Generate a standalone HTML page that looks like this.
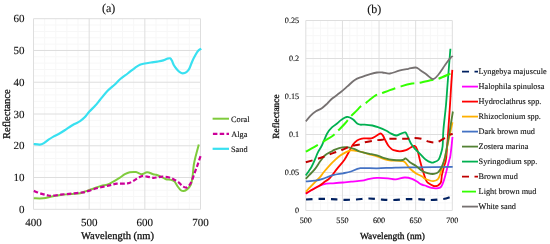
<!DOCTYPE html>
<html><head><meta charset="utf-8"><style>
html,body{margin:0;padding:0;background:#fff;width:550px;height:244px;overflow:hidden}
svg{display:block;will-change:transform;filter:blur(0.3px)}
text{font-family:"Liberation Serif",serif;text-rendering:geometricPrecision;fill:#111111;stroke:#111;stroke-width:0.12px}
text.b{stroke-width:0.3px}
</style></head><body>
<svg width="550" height="244" viewBox="0 0 550 244">
<rect width="550" height="244" fill="#fff"/>
<line x1="33.5" y1="202.95" x2="200.5" y2="202.95" stroke="#f7f7f7" stroke-width="1"/>
<line x1="33.5" y1="196.59" x2="200.5" y2="196.59" stroke="#f7f7f7" stroke-width="1"/>
<line x1="33.5" y1="190.24" x2="200.5" y2="190.24" stroke="#f7f7f7" stroke-width="1"/>
<line x1="33.5" y1="183.89" x2="200.5" y2="183.89" stroke="#f7f7f7" stroke-width="1"/>
<line x1="33.5" y1="171.18" x2="200.5" y2="171.18" stroke="#f7f7f7" stroke-width="1"/>
<line x1="33.5" y1="164.83" x2="200.5" y2="164.83" stroke="#f7f7f7" stroke-width="1"/>
<line x1="33.5" y1="158.47" x2="200.5" y2="158.47" stroke="#f7f7f7" stroke-width="1"/>
<line x1="33.5" y1="152.12" x2="200.5" y2="152.12" stroke="#f7f7f7" stroke-width="1"/>
<line x1="33.5" y1="139.41" x2="200.5" y2="139.41" stroke="#f7f7f7" stroke-width="1"/>
<line x1="33.5" y1="133.06" x2="200.5" y2="133.06" stroke="#f7f7f7" stroke-width="1"/>
<line x1="33.5" y1="126.71" x2="200.5" y2="126.71" stroke="#f7f7f7" stroke-width="1"/>
<line x1="33.5" y1="120.35" x2="200.5" y2="120.35" stroke="#f7f7f7" stroke-width="1"/>
<line x1="33.5" y1="107.65" x2="200.5" y2="107.65" stroke="#f7f7f7" stroke-width="1"/>
<line x1="33.5" y1="101.29" x2="200.5" y2="101.29" stroke="#f7f7f7" stroke-width="1"/>
<line x1="33.5" y1="94.94" x2="200.5" y2="94.94" stroke="#f7f7f7" stroke-width="1"/>
<line x1="33.5" y1="88.59" x2="200.5" y2="88.59" stroke="#f7f7f7" stroke-width="1"/>
<line x1="33.5" y1="75.88" x2="200.5" y2="75.88" stroke="#f7f7f7" stroke-width="1"/>
<line x1="33.5" y1="69.53" x2="200.5" y2="69.53" stroke="#f7f7f7" stroke-width="1"/>
<line x1="33.5" y1="63.17" x2="200.5" y2="63.17" stroke="#f7f7f7" stroke-width="1"/>
<line x1="33.5" y1="56.82" x2="200.5" y2="56.82" stroke="#f7f7f7" stroke-width="1"/>
<line x1="33.5" y1="44.11" x2="200.5" y2="44.11" stroke="#f7f7f7" stroke-width="1"/>
<line x1="33.5" y1="37.76" x2="200.5" y2="37.76" stroke="#f7f7f7" stroke-width="1"/>
<line x1="33.5" y1="31.41" x2="200.5" y2="31.41" stroke="#f7f7f7" stroke-width="1"/>
<line x1="33.5" y1="25.05" x2="200.5" y2="25.05" stroke="#f7f7f7" stroke-width="1"/>
<line x1="44.63" y1="18.7" x2="44.63" y2="209.3" stroke="#f7f7f7" stroke-width="1"/>
<line x1="55.77" y1="18.7" x2="55.77" y2="209.3" stroke="#f7f7f7" stroke-width="1"/>
<line x1="66.9" y1="18.7" x2="66.9" y2="209.3" stroke="#f7f7f7" stroke-width="1"/>
<line x1="78.03" y1="18.7" x2="78.03" y2="209.3" stroke="#f7f7f7" stroke-width="1"/>
<line x1="100.3" y1="18.7" x2="100.3" y2="209.3" stroke="#f7f7f7" stroke-width="1"/>
<line x1="111.43" y1="18.7" x2="111.43" y2="209.3" stroke="#f7f7f7" stroke-width="1"/>
<line x1="122.57" y1="18.7" x2="122.57" y2="209.3" stroke="#f7f7f7" stroke-width="1"/>
<line x1="133.7" y1="18.7" x2="133.7" y2="209.3" stroke="#f7f7f7" stroke-width="1"/>
<line x1="155.97" y1="18.7" x2="155.97" y2="209.3" stroke="#f7f7f7" stroke-width="1"/>
<line x1="167.1" y1="18.7" x2="167.1" y2="209.3" stroke="#f7f7f7" stroke-width="1"/>
<line x1="178.23" y1="18.7" x2="178.23" y2="209.3" stroke="#f7f7f7" stroke-width="1"/>
<line x1="189.37" y1="18.7" x2="189.37" y2="209.3" stroke="#f7f7f7" stroke-width="1"/>
<line x1="33.5" y1="177.53" x2="200.5" y2="177.53" stroke="#dedede" stroke-width="1"/>
<line x1="33.5" y1="145.77" x2="200.5" y2="145.77" stroke="#dedede" stroke-width="1"/>
<line x1="33.5" y1="114" x2="200.5" y2="114" stroke="#dedede" stroke-width="1"/>
<line x1="33.5" y1="82.23" x2="200.5" y2="82.23" stroke="#dedede" stroke-width="1"/>
<line x1="33.5" y1="50.47" x2="200.5" y2="50.47" stroke="#dedede" stroke-width="1"/>
<line x1="33.5" y1="18.7" x2="200.5" y2="18.7" stroke="#dedede" stroke-width="1"/>
<line x1="89.17" y1="18.7" x2="89.17" y2="209.3" stroke="#dedede" stroke-width="1"/>
<line x1="144.83" y1="18.7" x2="144.83" y2="209.3" stroke="#dedede" stroke-width="1"/>
<line x1="200.5" y1="18.7" x2="200.5" y2="209.3" stroke="#dedede" stroke-width="1"/>
<line x1="33.5" y1="18.7" x2="33.5" y2="209.3" stroke="#dedede" stroke-width="1"/>
<line x1="33.5" y1="209.3" x2="200.5" y2="209.3" stroke="#dedede" stroke-width="1"/>
<line x1="305.8" y1="202.9" x2="452.3" y2="202.9" stroke="#f7f7f7" stroke-width="1"/>
<line x1="305.8" y1="195.3" x2="452.3" y2="195.3" stroke="#f7f7f7" stroke-width="1"/>
<line x1="305.8" y1="187.7" x2="452.3" y2="187.7" stroke="#f7f7f7" stroke-width="1"/>
<line x1="305.8" y1="180.1" x2="452.3" y2="180.1" stroke="#f7f7f7" stroke-width="1"/>
<line x1="305.8" y1="164.9" x2="452.3" y2="164.9" stroke="#f7f7f7" stroke-width="1"/>
<line x1="305.8" y1="157.3" x2="452.3" y2="157.3" stroke="#f7f7f7" stroke-width="1"/>
<line x1="305.8" y1="149.7" x2="452.3" y2="149.7" stroke="#f7f7f7" stroke-width="1"/>
<line x1="305.8" y1="142.1" x2="452.3" y2="142.1" stroke="#f7f7f7" stroke-width="1"/>
<line x1="305.8" y1="126.9" x2="452.3" y2="126.9" stroke="#f7f7f7" stroke-width="1"/>
<line x1="305.8" y1="119.3" x2="452.3" y2="119.3" stroke="#f7f7f7" stroke-width="1"/>
<line x1="305.8" y1="111.7" x2="452.3" y2="111.7" stroke="#f7f7f7" stroke-width="1"/>
<line x1="305.8" y1="104.1" x2="452.3" y2="104.1" stroke="#f7f7f7" stroke-width="1"/>
<line x1="305.8" y1="88.9" x2="452.3" y2="88.9" stroke="#f7f7f7" stroke-width="1"/>
<line x1="305.8" y1="81.3" x2="452.3" y2="81.3" stroke="#f7f7f7" stroke-width="1"/>
<line x1="305.8" y1="73.7" x2="452.3" y2="73.7" stroke="#f7f7f7" stroke-width="1"/>
<line x1="305.8" y1="66.1" x2="452.3" y2="66.1" stroke="#f7f7f7" stroke-width="1"/>
<line x1="305.8" y1="50.9" x2="452.3" y2="50.9" stroke="#f7f7f7" stroke-width="1"/>
<line x1="305.8" y1="43.3" x2="452.3" y2="43.3" stroke="#f7f7f7" stroke-width="1"/>
<line x1="305.8" y1="35.7" x2="452.3" y2="35.7" stroke="#f7f7f7" stroke-width="1"/>
<line x1="305.8" y1="28.1" x2="452.3" y2="28.1" stroke="#f7f7f7" stroke-width="1"/>
<line x1="313.12" y1="20.5" x2="313.12" y2="210.5" stroke="#f7f7f7" stroke-width="1"/>
<line x1="320.45" y1="20.5" x2="320.45" y2="210.5" stroke="#f7f7f7" stroke-width="1"/>
<line x1="327.78" y1="20.5" x2="327.78" y2="210.5" stroke="#f7f7f7" stroke-width="1"/>
<line x1="335.1" y1="20.5" x2="335.1" y2="210.5" stroke="#f7f7f7" stroke-width="1"/>
<line x1="349.75" y1="20.5" x2="349.75" y2="210.5" stroke="#f7f7f7" stroke-width="1"/>
<line x1="357.07" y1="20.5" x2="357.07" y2="210.5" stroke="#f7f7f7" stroke-width="1"/>
<line x1="364.4" y1="20.5" x2="364.4" y2="210.5" stroke="#f7f7f7" stroke-width="1"/>
<line x1="371.73" y1="20.5" x2="371.73" y2="210.5" stroke="#f7f7f7" stroke-width="1"/>
<line x1="386.38" y1="20.5" x2="386.38" y2="210.5" stroke="#f7f7f7" stroke-width="1"/>
<line x1="393.7" y1="20.5" x2="393.7" y2="210.5" stroke="#f7f7f7" stroke-width="1"/>
<line x1="401.02" y1="20.5" x2="401.02" y2="210.5" stroke="#f7f7f7" stroke-width="1"/>
<line x1="408.35" y1="20.5" x2="408.35" y2="210.5" stroke="#f7f7f7" stroke-width="1"/>
<line x1="423" y1="20.5" x2="423" y2="210.5" stroke="#f7f7f7" stroke-width="1"/>
<line x1="430.33" y1="20.5" x2="430.33" y2="210.5" stroke="#f7f7f7" stroke-width="1"/>
<line x1="437.65" y1="20.5" x2="437.65" y2="210.5" stroke="#f7f7f7" stroke-width="1"/>
<line x1="444.98" y1="20.5" x2="444.98" y2="210.5" stroke="#f7f7f7" stroke-width="1"/>
<line x1="305.8" y1="172.5" x2="452.3" y2="172.5" stroke="#dedede" stroke-width="1"/>
<line x1="305.8" y1="134.5" x2="452.3" y2="134.5" stroke="#dedede" stroke-width="1"/>
<line x1="305.8" y1="96.5" x2="452.3" y2="96.5" stroke="#dedede" stroke-width="1"/>
<line x1="305.8" y1="58.5" x2="452.3" y2="58.5" stroke="#dedede" stroke-width="1"/>
<line x1="305.8" y1="20.5" x2="452.3" y2="20.5" stroke="#dedede" stroke-width="1"/>
<line x1="342.43" y1="20.5" x2="342.43" y2="210.5" stroke="#dedede" stroke-width="1"/>
<line x1="379.05" y1="20.5" x2="379.05" y2="210.5" stroke="#dedede" stroke-width="1"/>
<line x1="415.68" y1="20.5" x2="415.68" y2="210.5" stroke="#dedede" stroke-width="1"/>
<line x1="452.3" y1="20.5" x2="452.3" y2="210.5" stroke="#dedede" stroke-width="1"/>
<line x1="305.8" y1="20.5" x2="305.8" y2="210.5" stroke="#dedede" stroke-width="1"/>
<line x1="305.8" y1="210.5" x2="452.3" y2="210.5" stroke="#dedede" stroke-width="1"/>
<path d="M33.8,198.3 C35.35,198.3 40.1,198.58 43.1,198.3 C46.1,198.02 48.9,197.15 51.8,196.6 C54.7,196.05 57.23,195.43 60.5,195 C63.77,194.57 67.93,194.35 71.4,194 C74.87,193.65 79.03,193.32 81.3,192.9 C83.57,192.48 83.15,192.15 85,191.5 C86.85,190.85 89.73,189.93 92.4,189 C95.07,188.07 98.53,186.62 101,185.9 C103.47,185.18 105.15,185.42 107.2,184.7 C109.25,183.98 111.25,182.73 113.3,181.6 C115.35,180.47 117.57,179.13 119.5,177.9 C121.43,176.67 123.18,175.13 124.9,174.2 C126.62,173.27 127.95,172.65 129.8,172.3 C131.65,171.95 134.05,171.78 136,172.1 C137.95,172.42 139.65,174.17 141.5,174.2 C143.35,174.23 145.15,172.3 147.1,172.3 C149.05,172.3 151.68,173.78 153.2,174.2 C154.72,174.62 154.68,174.28 156.2,174.8 C157.72,175.32 160.67,176.57 162.3,177.3 C163.93,178.03 164.57,178.78 166,179.2 C167.43,179.62 169.47,179.4 170.9,179.8 C172.33,180.2 173.47,180.48 174.6,181.6 C175.73,182.72 176.67,185.07 177.7,186.5 C178.73,187.93 179.78,189.43 180.8,190.2 C181.82,190.97 182.78,191.2 183.8,191.1 C184.82,191 185.72,190.7 186.9,189.6 C188.08,188.5 189.95,186.77 190.9,184.5 C191.85,182.23 192.12,179.25 192.6,176 C193.08,172.75 193.3,168.25 193.8,165 C194.3,161.75 194.77,159.92 195.6,156.5 C196.43,153.08 198.27,146.5 198.8,144.5" fill="none" stroke="#7fcb3c" stroke-width="2" stroke-linejoin="round"/>
<path d="M33.8,190.9 C34.98,191.35 38.63,192.87 40.9,193.6 C43.17,194.33 45.58,194.93 47.4,195.3 C49.22,195.67 49.62,195.9 51.8,195.8 C53.98,195.7 57.23,195.07 60.5,194.7 C63.77,194.33 67.93,193.97 71.4,193.6 C74.87,193.23 79.03,192.75 81.3,192.5 C83.57,192.25 83.15,192.58 85,192.1 C86.85,191.62 89.73,190.42 92.4,189.6 C95.07,188.78 98.13,187.92 101,187.2 C103.87,186.48 106.93,185.88 109.6,185.3 C112.27,184.72 114.03,184.02 117,183.7 C119.97,183.38 124.85,183.77 127.4,183.4 C129.95,183.03 130.67,182.32 132.3,181.5 C133.93,180.68 135.55,179.42 137.2,178.5 C138.85,177.58 140.55,176.32 142.2,176 C143.85,175.68 145.27,176.3 147.1,176.6 C148.93,176.9 151.48,177.68 153.2,177.8 C154.92,177.92 155.88,177.48 157.4,177.3 C158.92,177.12 160.45,176.7 162.3,176.7 C164.15,176.7 166.65,176.88 168.5,177.3 C170.35,177.72 171.77,178.38 173.4,179.2 C175.03,180.02 176.67,180.98 178.3,182.2 C179.93,183.42 181.77,185.63 183.2,186.5 C184.63,187.37 185.62,188.02 186.9,187.4 C188.18,186.78 189.67,185.07 190.9,182.8 C192.13,180.53 193.18,176.8 194.3,173.8 C195.42,170.8 196.55,167.8 197.6,164.8 C198.65,161.8 200.1,157.3 200.6,155.8" fill="none" stroke="#cc0099" stroke-width="2.2" stroke-linejoin="round" stroke-dasharray="4.5,2.3"/>
<path d="M33.7,144 C34.72,144.1 38.17,144.7 39.8,144.6 C41.43,144.5 42.05,144.22 43.5,143.4 C44.95,142.58 46.85,140.83 48.5,139.7 C50.15,138.57 51.57,137.63 53.4,136.6 C55.23,135.57 57.45,134.67 59.5,133.5 C61.55,132.33 63.83,130.82 65.7,129.6 C67.57,128.38 69.15,127.17 70.7,126.2 C72.25,125.23 73.43,124.63 75,123.8 C76.57,122.97 78.53,122.23 80.1,121.2 C81.67,120.17 82.85,119.22 84.4,117.6 C85.95,115.98 87.62,113.47 89.4,111.5 C91.18,109.53 93.32,107.75 95.1,105.8 C96.88,103.85 98.05,102.27 100.1,99.8 C102.15,97.33 104.95,93.55 107.4,91 C109.85,88.45 112.65,86.5 114.8,84.5 C116.95,82.5 118.15,80.83 120.3,79 C122.45,77.17 125.25,75.37 127.7,73.5 C130.15,71.63 132.97,69.27 135,67.8 C137.03,66.33 138.27,65.42 139.9,64.7 C141.53,63.98 142.95,63.87 144.8,63.5 C146.65,63.13 148.93,62.82 151,62.5 C153.07,62.18 155.15,61.95 157.2,61.6 C159.25,61.25 161.67,60.87 163.3,60.4 C164.93,59.93 165.87,59.15 167,58.8 C168.13,58.45 169.28,58 170.1,58.3 C170.92,58.6 171.27,59.43 171.9,60.6 C172.53,61.77 173.08,63.85 173.9,65.3 C174.72,66.75 175.82,68.15 176.8,69.3 C177.78,70.45 178.82,71.53 179.8,72.2 C180.78,72.87 181.6,73.3 182.7,73.3 C183.8,73.3 185.28,73 186.4,72.2 C187.52,71.4 188.42,70.33 189.4,68.5 C190.38,66.67 191.32,63.4 192.3,61.2 C193.28,59 194.32,57.03 195.3,55.3 C196.28,53.57 197.22,51.92 198.2,50.8 C199.18,49.68 200.7,48.97 201.2,48.6" fill="none" stroke="#38e0f0" stroke-width="2.2" stroke-linejoin="round"/>
<line x1="212.6" y1="118.7" x2="229" y2="118.7" stroke="#7fcb3c" stroke-width="2"/>
<line x1="212.9" y1="133.8" x2="229" y2="133.8" stroke="#cc0099" stroke-width="2.2" stroke-dasharray="4.5,2.3"/>
<line x1="212.6" y1="148.8" x2="229" y2="148.8" stroke="#38e0f0" stroke-width="2.2"/>
<text x="231" y="122.3" font-size="8.3" text-anchor="start">Coral</text>
<text x="231.2" y="137.4" font-size="8.3" text-anchor="start">Alga</text>
<text x="231" y="151.8" font-size="8.3" text-anchor="start">Sand</text>
<path d="M306,199.5 C308.17,199.38 314.83,198.87 319,198.8 C323.17,198.73 326.9,198.93 331,199.1 C335.1,199.27 339.4,199.73 343.6,199.8 C347.8,199.87 352,199.72 356.2,199.5 C360.4,199.28 364.7,198.5 368.8,198.5 C372.9,198.5 376.7,199.25 380.8,199.5 C384.9,199.75 389.2,200.05 393.4,200 C397.6,199.95 401.9,199.35 406,199.2 C410.1,199.05 413.92,198.97 418,199.1 C422.08,199.23 426.83,199.97 430.5,200 C434.17,200.03 437.42,199.55 440,199.3 C442.58,199.05 444.08,198.97 446,198.5 C447.92,198.03 450.58,196.83 451.5,196.5" fill="none" stroke="#002060" stroke-width="2.2" stroke-linejoin="round" stroke-dasharray="6.5,6"/>
<path d="M305.8,193.8 C306.97,193.03 310.4,190.58 312.8,189.2 C315.2,187.82 317.93,186.42 320.2,185.5 C322.47,184.58 324.27,184.07 326.4,183.7 C328.53,183.33 330.23,183.5 333,183.3 C335.77,183.1 340,182.78 343,182.5 C346,182.22 347.83,181.9 351,181.6 C354.17,181.3 358.92,181.17 362,180.7 C365.08,180.23 367,179.27 369.5,178.8 C372,178.33 373.92,177.98 377,177.9 C380.08,177.82 384.92,178.05 388,178.3 C391.08,178.55 392.72,179.53 395.5,179.4 C398.28,179.27 401.95,177.6 404.7,177.5 C407.45,177.4 409.95,178.12 412,178.8 C414.05,179.48 415.43,180.67 417,181.6 C418.57,182.53 420.07,183.75 421.4,184.4 C422.73,185.05 423.3,184.92 425,185.5 C426.7,186.08 429.43,187.47 431.6,187.9 C433.77,188.33 436.4,188.32 438,188.1 C439.6,187.88 440.2,187.93 441.2,186.6 C442.2,185.27 443.05,182.98 444,180.1 C444.95,177.22 446.05,172.53 446.9,169.3 C447.75,166.07 448.5,163.08 449.1,160.7 C449.7,158.32 449.93,158.95 450.5,155 C451.07,151.05 452.17,140 452.5,137" fill="none" stroke="#ff00ff" stroke-width="1.8" stroke-linejoin="round"/>
<path d="M305.8,193.5 C306.77,192.92 309.4,191.23 311.6,190 C313.8,188.77 316.75,187.52 319,186.1 C321.25,184.68 323.27,182.87 325.1,181.5 C326.93,180.13 327.98,180.05 330,177.9 C332.02,175.75 334.82,171.58 337.2,168.6 C339.58,165.62 342.32,162.85 344.3,160 C346.28,157.15 347.68,154.03 349.1,151.5 C350.52,148.97 351.47,146.63 352.8,144.8 C354.13,142.97 355.55,141.53 357.1,140.5 C358.65,139.47 360.78,138.95 362.1,138.6 C363.42,138.25 363.48,138.45 365,138.4 C366.52,138.35 369.35,138.7 371.2,138.3 C373.05,137.9 374.57,136.8 376.1,136 C377.63,135.2 379.28,133.6 380.4,133.5 C381.52,133.4 381.98,134.27 382.8,135.4 C383.62,136.53 384.37,138.57 385.3,140.3 C386.23,142.03 387.38,144.37 388.4,145.8 C389.42,147.23 390.52,148.17 391.4,148.9 C392.28,149.63 392.3,149.78 393.7,150.2 C395.1,150.62 397.75,151.4 399.8,151.4 C401.85,151.4 404.25,150.82 406,150.2 C407.75,149.58 408.87,148.42 410.3,147.7 C411.73,146.98 413.45,145.6 414.6,145.9 C415.75,146.2 416.33,147.18 417.2,149.5 C418.07,151.82 418.97,156.63 419.8,159.8 C420.63,162.97 421.18,165.13 422.2,168.5 C423.22,171.87 424.88,177.6 425.9,180 C426.92,182.4 426.82,181.88 428.3,182.9 C429.78,183.92 432.75,186.1 434.8,186.1 C436.85,186.1 439.42,184.73 440.6,182.9 C441.78,181.07 441.33,177.83 441.9,175.1 C442.47,172.37 443.28,169.37 444,166.5 C444.72,163.63 445.48,163.98 446.2,157.9 C446.92,151.82 447.67,138.82 448.3,130 C448.93,121.18 449.52,112.5 450,105 C450.48,97.5 450.82,90.85 451.2,85 C451.58,79.15 452.12,72.42 452.3,69.9" fill="none" stroke="#ff0000" stroke-width="1.8" stroke-linejoin="round"/>
<path d="M305.8,191.7 C306.57,190.88 308.82,188.45 310.4,186.8 C311.98,185.15 313.67,183.45 315.3,181.8 C316.93,180.15 318.77,178.53 320.2,176.9 C321.63,175.27 322.25,174.02 323.9,172 C325.55,169.98 328.25,166.8 330.1,164.8 C331.95,162.8 333.37,161.5 335,160 C336.63,158.5 338.05,157.12 339.9,155.8 C341.75,154.48 344.25,153.02 346.1,152.1 C347.95,151.18 349.37,150.5 351,150.3 C352.63,150.1 354.05,150.6 355.9,150.9 C357.75,151.2 360.13,151.58 362.1,152.1 C364.07,152.62 365.22,153.28 367.7,154 C370.18,154.72 373.62,155.4 377,156.4 C380.38,157.4 384,159.23 388,160 C392,160.77 398.17,160.62 401,161 C403.83,161.38 403.52,161.05 405,162.3 C406.48,163.55 408.05,166.65 409.9,168.5 C411.75,170.35 414.05,172.08 416.1,173.4 C418.15,174.72 420.72,175.5 422.2,176.4 C423.68,177.3 423.17,178 425,178.8 C426.83,179.6 430.98,181.22 433.2,181.2 C435.42,181.18 436.97,180.43 438.3,178.7 C439.63,176.97 440.37,173.32 441.2,170.8 C442.03,168.28 442.7,165.75 443.3,163.6 C443.9,161.45 444.1,161 444.8,157.9 C445.5,154.8 446.22,150.95 447.5,145 C448.78,139.05 451.67,126 452.5,122.2" fill="none" stroke="#ffb000" stroke-width="1.8" stroke-linejoin="round"/>
<path d="M305.8,181.4 C307.38,181.27 312.48,181.03 315.3,180.6 C318.12,180.17 319.75,179.72 322.7,178.8 C325.65,177.88 329.62,176.02 333,175.1 C336.38,174.18 340,173.9 343,173.3 C346,172.7 348.12,172.35 351,171.5 C353.88,170.65 355.97,168.73 360.3,168.2 C364.63,167.67 371.13,168.4 377,168.3 C382.87,168.2 388.83,167.77 395.5,167.6 C402.17,167.43 407.47,167.42 417,167.3 C426.53,167.18 446.75,166.97 452.7,166.9" fill="none" stroke="#4472c4" stroke-width="1.8" stroke-linejoin="round"/>
<path d="M305.8,178.8 C306.37,178.2 307.62,176.9 309.2,175.2 C310.78,173.5 313.47,170.92 315.3,168.6 C317.13,166.28 318.57,163.53 320.2,161.3 C321.83,159.07 323.3,156.78 325.1,155.2 C326.9,153.62 329.35,152.73 331,151.8 C332.65,150.87 333.1,150.33 335,149.6 C336.9,148.87 340.15,147.77 342.4,147.4 C344.65,147.03 346.45,147.1 348.5,147.4 C350.55,147.7 352.85,148.52 354.7,149.2 C356.55,149.88 357.88,150.88 359.6,151.5 C361.32,152.12 363.35,152.52 365,152.9 C366.65,153.28 367.5,153.38 369.5,153.8 C371.5,154.22 374.52,154.67 377,155.4 C379.48,156.13 381.63,157.43 384.4,158.2 C387.17,158.97 390.53,159.7 393.6,160 C396.67,160.3 400.8,160.27 402.8,160 C404.8,159.73 404.42,158.02 405.6,158.4 C406.78,158.78 408.15,161.03 409.9,162.3 C411.65,163.57 414.05,164.57 416.1,166 C418.15,167.43 420.15,169.67 422.2,170.9 C424.25,172.13 426.43,172.9 428.4,173.4 C430.37,173.9 432.35,174.1 434,173.9 C435.65,173.7 436.98,173.43 438.3,172.2 C439.62,170.97 440.95,168.42 441.9,166.5 C442.85,164.58 443.4,162.62 444,160.7 C444.6,158.78 444.58,159.78 445.5,155 C446.42,150.22 448.27,139.25 449.5,132 C450.73,124.75 452.33,114.92 452.9,111.5" fill="none" stroke="#548235" stroke-width="1.8" stroke-linejoin="round"/>
<path d="M305.8,175.5 C306.77,174.03 310.02,169.5 311.6,166.7 C313.18,163.9 314.27,161.05 315.3,158.7 C316.33,156.35 316.67,154.88 317.8,152.6 C318.93,150.32 320.52,148.23 322.1,145 C323.68,141.77 325.62,136.17 327.3,133.2 C328.98,130.23 330.57,128.82 332.2,127.2 C333.83,125.58 335.8,124.55 337.1,123.5 C338.4,122.45 338.9,121.78 340,120.9 C341.1,120.02 342.57,118.85 343.7,118.2 C344.83,117.55 345.78,117.12 346.8,117 C347.82,116.88 348.68,117.03 349.8,117.5 C350.92,117.97 352.27,118.8 353.5,119.8 C354.73,120.8 356.07,122.68 357.2,123.5 C358.33,124.32 359.07,124.52 360.3,124.7 C361.53,124.88 362.58,124.47 364.6,124.6 C366.62,124.73 370.08,125.03 372.4,125.5 C374.72,125.97 376.25,126.57 378.5,127.4 C380.75,128.23 383.98,129.57 385.9,130.5 C387.82,131.43 388.3,132.17 390,133 C391.7,133.83 394.25,135.4 396.1,135.5 C397.95,135.6 399.55,134.12 401.1,133.6 C402.65,133.08 404.28,131.88 405.4,132.4 C406.52,132.92 406.88,134.85 407.8,136.7 C408.72,138.55 409.77,141.55 410.9,143.5 C412.03,145.45 413.73,147.32 414.6,148.4 C415.47,149.48 415.03,148.92 416.1,150 C417.17,151.08 419.37,153.27 421,154.9 C422.63,156.53 424.23,158.55 425.9,159.8 C427.57,161.05 429.65,162 431,162.4 C432.35,162.8 432.78,162.6 434,162.2 C435.22,161.8 437.22,161.2 438.3,160 C439.38,158.8 439.78,157.27 440.5,155 C441.22,152.73 442.12,150.57 442.6,146.4 C443.08,142.23 442.83,136.9 443.4,130 C443.97,123.1 445.32,112.5 446,105 C446.68,97.5 446.77,94.38 447.5,85 C448.23,75.62 449.92,54.75 450.4,48.7" fill="none" stroke="#00b050" stroke-width="1.8" stroke-linejoin="round"/>
<path d="M305.8,162.3 C308.2,161.58 315.67,159.53 320.2,158 C324.73,156.47 329.3,154.48 333,153.1 C336.7,151.72 339.4,150.88 342.4,149.7 C345.4,148.52 348.33,146.82 351,146 C353.67,145.18 356.07,145.42 358.4,144.8 C360.73,144.18 362.05,143.05 365,142.3 C367.95,141.55 373.23,140.73 376.1,140.3 C378.97,139.87 380.22,139.95 382.2,139.7 C384.18,139.45 384.25,138.95 388,138.8 C391.75,138.65 400.37,138.95 404.7,138.8 C409.03,138.65 411.22,137.9 414,137.9 C416.78,137.9 418.93,138.18 421.4,138.8 C423.87,139.42 426.35,140.98 428.8,141.6 C431.25,142.22 433.65,142.97 436.1,142.5 C438.55,142.03 441.35,140.03 443.5,138.8 C445.65,137.57 447.47,135.92 449,135.1 C450.53,134.28 452.08,134.1 452.7,133.9" fill="none" stroke="#c00000" stroke-width="2" stroke-linejoin="round" stroke-dasharray="7,5.5"/>
<path d="M305.8,151.7 C307.18,150.93 310.73,149.05 314.1,147.1 C317.47,145.15 322.77,141.98 326,140 C329.23,138.02 331.43,136.82 333.5,135.2 C335.57,133.58 336.48,132.25 338.4,130.3 C340.32,128.35 342.9,125.87 345,123.5 C347.1,121.13 349.1,118.2 351,116.1 C352.9,114 354.85,112.45 356.4,110.9 C357.95,109.35 358.93,107.93 360.3,106.8 C361.67,105.67 363.07,105.23 364.6,104.1 C366.13,102.97 367.6,101.48 369.5,100 C371.4,98.52 374.13,96.25 376,95.2 C377.87,94.15 378.38,94.55 380.7,93.7 C383.02,92.85 386.52,91.32 389.9,90.1 C393.28,88.88 397.32,87.48 401,86.4 C404.68,85.32 408.83,84.2 412,83.6 C415.17,83 416.67,83.38 420,82.8 C423.33,82.22 429.08,80.72 432,80.1 C434.92,79.48 434.43,80.18 437.5,79.1 C440.57,78.02 448.25,74.52 450.4,73.6" fill="none" stroke="#33ff00" stroke-width="2" stroke-linejoin="round" stroke-dasharray="14,5.5"/>
<path d="M305.8,121.4 C306.57,120.47 308.72,117.5 310.4,115.8 C312.08,114.1 314.05,112.43 315.9,111.2 C317.75,109.97 319.65,109.63 321.5,108.4 C323.35,107.17 325.17,105.48 327,103.8 C328.83,102.12 330.35,100.13 332.5,98.3 C334.65,96.47 337.42,94.78 339.9,92.8 C342.38,90.82 344.92,88.55 347.4,86.4 C349.88,84.25 352.35,81.5 354.8,79.9 C357.25,78.3 359.65,77.72 362.1,76.8 C364.55,75.88 367.02,75.12 369.5,74.4 C371.98,73.68 374.83,72.82 377,72.5 C379.17,72.18 380.35,72.33 382.5,72.5 C384.65,72.67 387.13,73.8 389.9,73.5 C392.67,73.2 396.02,71.48 399.1,70.7 C402.18,69.92 405.63,69.33 408.4,68.8 C411.17,68.27 413.77,67.32 415.7,67.5 C417.63,67.68 418.2,68.73 420,69.9 C421.8,71.07 424.35,72.97 426.5,74.5 C428.65,76.03 430.9,79.1 432.9,79.1 C434.9,79.1 436.5,76.8 438.5,74.5 C440.5,72.2 442.92,68.07 444.9,65.3 C446.88,62.53 449.08,59.43 450.4,57.9 C451.72,56.37 452.4,56.4 452.8,56.1" fill="none" stroke="#767171" stroke-width="1.8" stroke-linejoin="round"/>
<line x1="462" y1="71.6" x2="478" y2="71.6" stroke="#002060" stroke-width="1.8" stroke-dasharray="7,5.5"/>
<text x="478.6" y="74.4" font-size="8.25" text-anchor="start">Lyngebya majuscule</text>
<line x1="462" y1="86.6" x2="478" y2="86.6" stroke="#ff00ff" stroke-width="1.8"/>
<text x="478.6" y="89.4" font-size="8.25" text-anchor="start">Halophila spinulosa</text>
<line x1="462" y1="101.6" x2="478" y2="101.6" stroke="#ff0000" stroke-width="1.8"/>
<text x="478.6" y="104.4" font-size="8.25" text-anchor="start">Hydroclathrus spp.</text>
<line x1="462" y1="116.6" x2="478" y2="116.6" stroke="#ffb000" stroke-width="1.8"/>
<text x="478.6" y="119.4" font-size="8.25" text-anchor="start">Rhizoclonium spp.</text>
<line x1="462" y1="131.6" x2="478" y2="131.6" stroke="#4472c4" stroke-width="1.8"/>
<text x="478.6" y="134.4" font-size="8.25" text-anchor="start">Dark brown mud</text>
<line x1="462" y1="146.6" x2="478" y2="146.6" stroke="#548235" stroke-width="1.8"/>
<text x="478.6" y="149.4" font-size="8.25" text-anchor="start">Zostera marina</text>
<line x1="462" y1="161.6" x2="478" y2="161.6" stroke="#00b050" stroke-width="1.8"/>
<text x="478.6" y="164.4" font-size="8.25" text-anchor="start">Syringodium spp.</text>
<line x1="462" y1="176.6" x2="478" y2="176.6" stroke="#c00000" stroke-width="1.8" stroke-dasharray="7,5.5"/>
<text x="478.6" y="179.4" font-size="8.25" text-anchor="start">Brown mud</text>
<line x1="462" y1="191.6" x2="478" y2="191.6" stroke="#33ff00" stroke-width="1.8" stroke-dasharray="14,5.5"/>
<text x="478.6" y="194.4" font-size="8.25" text-anchor="start">Light brown mud</text>
<line x1="462" y1="206.6" x2="478" y2="206.6" stroke="#767171" stroke-width="1.8"/>
<text x="478.6" y="209.4" font-size="8.25" text-anchor="start">White sand</text>
<text x="24.5" y="213" font-size="11" text-anchor="end">0</text>
<text x="24.5" y="181.23" font-size="11" text-anchor="end">10</text>
<text x="24.5" y="149.47" font-size="11" text-anchor="end">20</text>
<text x="24.5" y="117.7" font-size="11" text-anchor="end">30</text>
<text x="24.5" y="85.93" font-size="11" text-anchor="end">40</text>
<text x="24.5" y="54.17" font-size="11" text-anchor="end">50</text>
<text x="24.5" y="22.4" font-size="11" text-anchor="end">60</text>
<text x="33.5" y="226" font-size="11" text-anchor="middle">400</text>
<text x="89.17" y="226" font-size="11" text-anchor="middle">500</text>
<text x="144.83" y="226" font-size="11" text-anchor="middle">600</text>
<text x="200.5" y="226" font-size="11" text-anchor="middle">700</text>
<text class="b" x="117.5" y="239.1" font-size="10.5" text-anchor="middle">Wavelength (nm)</text>
<text class="b" x="9.8" y="114.2" font-size="10.5" text-anchor="middle" transform="rotate(-90 9.8 114.2)">Reflectance</text>
<text x="108.6" y="11.5" font-size="12" text-anchor="middle">(a)</text>
<text x="299.2" y="213.2" font-size="8.2" text-anchor="end">0</text>
<text x="299.2" y="175.2" font-size="8.2" text-anchor="end">0.05</text>
<text x="299.2" y="137.2" font-size="8.2" text-anchor="end">0.1</text>
<text x="299.2" y="99.2" font-size="8.2" text-anchor="end">0.15</text>
<text x="299.2" y="61.2" font-size="8.2" text-anchor="end">0.2</text>
<text x="299.2" y="23.2" font-size="8.2" text-anchor="end">0.25</text>
<text x="305.8" y="223" font-size="8.2" text-anchor="middle">500</text>
<text x="342.43" y="223" font-size="8.2" text-anchor="middle">550</text>
<text x="379.05" y="223" font-size="8.2" text-anchor="middle">600</text>
<text x="415.68" y="223" font-size="8.2" text-anchor="middle">650</text>
<text x="452.3" y="223" font-size="8.2" text-anchor="middle">700</text>
<text class="b" x="392.5" y="238.5" font-size="9.35" text-anchor="middle">Wavelength (nm)</text>
<text class="b" x="279.4" y="116.5" font-size="9.4" text-anchor="middle" transform="rotate(-90 279.4 116.5)">Reflectance</text>
<text x="374.3" y="12.6" font-size="12" text-anchor="middle">(b)</text>
</svg>
</body></html>
